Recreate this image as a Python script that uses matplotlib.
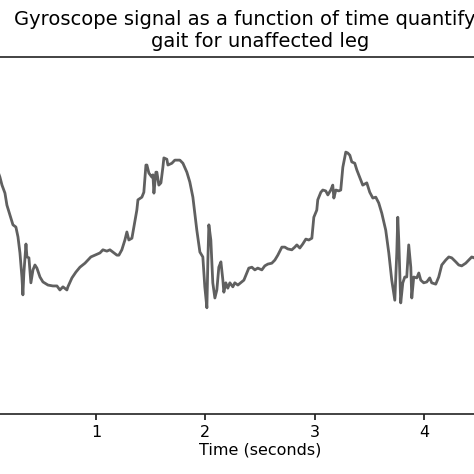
import matplotlib
matplotlib.use("Agg")
import matplotlib.pyplot as plt

# time (s) and gyroscope signal (arbitrary units)
time_s = [0.110, 0.123, 0.142, 0.169, 0.187, 0.215, 0.242, 0.269, 0.288, 0.306,
          0.324, 0.333, 0.342, 0.361, 0.370, 0.388, 0.406, 0.425, 0.443, 0.461,
          0.489, 0.516, 0.562, 0.607, 0.644, 0.671, 0.699, 0.735, 0.744, 0.781,
          0.817, 0.854, 0.900, 0.927, 0.954, 0.991, 1.037, 1.064, 1.100, 1.128,
          1.155, 1.192, 1.210, 1.237, 1.265, 1.283, 1.301, 1.329, 1.347, 1.374,
          1.384, 1.420, 1.438, 1.457, 1.466, 1.484, 1.511, 1.521, 1.530, 1.548,
          1.557, 1.575, 1.594, 1.612, 1.621, 1.648, 1.658, 1.694, 1.721, 1.767,
          1.795, 1.831, 1.858, 1.886, 1.904, 1.922, 1.950, 1.977, 1.995, 2.014,
          2.023, 2.032, 2.050, 2.068, 2.087, 2.105, 2.123, 2.142, 2.160, 2.169,
          2.187, 2.205, 2.224, 2.251, 2.269, 2.297, 2.333, 2.352, 2.379, 2.397,
          2.425, 2.452, 2.479, 2.516, 2.543, 2.571, 2.607, 2.635, 2.662, 2.699,
          2.726, 2.753, 2.790, 2.817, 2.836, 2.863, 2.890, 2.918, 2.945, 2.973,
          2.991, 3.018, 3.027, 3.055, 3.073, 3.100, 3.119, 3.146, 3.164, 3.174,
          3.192, 3.219, 3.237, 3.256, 3.283, 3.301, 3.320, 3.338, 3.365, 3.384,
          3.420, 3.438, 3.475, 3.502, 3.530, 3.557, 3.584, 3.612, 3.648, 3.676,
          3.703, 3.731, 3.749, 3.758, 3.767, 3.785, 3.804, 3.822, 3.840, 3.858,
          3.877, 3.886, 3.904, 3.932, 3.950, 3.968, 3.995, 4.023, 4.050, 4.068,
          4.105, 4.132, 4.160, 4.196, 4.224, 4.251, 4.288, 4.315, 4.342, 4.379,
          4.406, 4.434, 4.452, 4.470]
gyro = [1.40, 1.31, 1.13, 0.95, 0.68, 0.46, 0.24, 0.19, -0.03, -0.39,
        -0.93, -1.33, -0.84, -0.19, -0.48, -0.50, -1.06, -0.77, -0.66, -0.73,
        -0.93, -1.04, -1.11, -1.13, -1.13, -1.22, -1.15, -1.22, -1.15, -0.95,
        -0.82, -0.71, -0.62, -0.55, -0.48, -0.44, -0.39, -0.32, -0.35, -0.32,
        -0.37, -0.44, -0.44, -0.32, -0.10, 0.08, -0.10, -0.06, 0.19, 0.57,
        0.80, 0.86, 0.97, 1.58, 1.58, 1.40, 1.31, 1.36, 0.95, 1.42,
        1.42, 1.13, 1.18, 1.53, 1.74, 1.71, 1.58, 1.62, 1.69, 1.69,
        1.62, 1.42, 1.20, 0.86, 0.50, 0.12, -0.37, -0.48, -1.15, -1.62,
        -0.55, 0.24, -0.10, -1.06, -1.40, -1.22, -0.71, -0.59, -1.00, -1.27,
        -1.06, -1.18, -1.06, -1.15, -1.06, -1.11, -1.04, -1.00, -0.84, -0.73,
        -0.71, -0.77, -0.73, -0.77, -0.68, -0.64, -0.62, -0.55, -0.44, -0.26,
        -0.26, -0.30, -0.32, -0.26, -0.21, -0.28, -0.19, -0.08, -0.10, -0.06,
        0.41, 0.57, 0.80, 0.97, 1.02, 1.00, 0.91, 1.02, 1.13, 0.84,
        1.02, 1.00, 1.02, 1.53, 1.87, 1.85, 1.80, 1.65, 1.62, 1.47,
        1.24, 1.13, 1.18, 0.97, 0.84, 0.86, 0.73, 0.50, 0.12, -0.39,
        -1.00, -1.45, -0.39, 0.41, -0.10, -1.51, -1.06, -0.93, -0.93, -0.21,
        -0.71, -1.40, -0.93, -0.95, -0.84, -1.00, -1.06, -1.04, -0.95, -1.06,
        -1.09, -0.93, -0.66, -0.55, -0.48, -0.50, -0.59, -0.66, -0.68, -0.62,
        -0.55, -0.48, -0.50, -0.46]
xticks = [1, 2, 3, 4]

fig = plt.figure(figsize=(4.74, 4.74), dpi=100)
# the reference is a crop of a wider figure, so the axes run past both edges
ax = fig.add_axes([-0.0863, 0.1266, 1.270, 0.753])
ax.plot(time_s, gyro, color="#606060", linewidth=2)
ax.set_xlim(-0.25, 5.25)
ax.set_ylim(-4, 4)
ax.set_xticks(xticks)
ax.set_yticks([])
for side in ax.spines.values():
    side.set_linewidth(1.2)
    side.set_color("#222222")
ax.tick_params(axis="x", labelsize=11.5, length=4, width=1.1, pad=4)
ax.set_xlabel("Time (seconds)", fontsize=11.5, labelpad=2)
ax.set_title("Gyroscope signal as a function of time quantifying\n"
             "gait for unaffected leg", fontsize=14, pad=7, linespacing=1.2)

fig.savefig("out.png", dpi=100)
